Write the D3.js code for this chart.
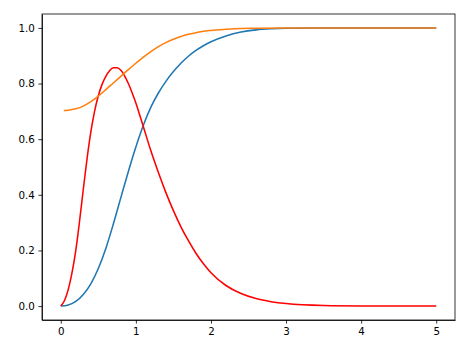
<!DOCTYPE html>
<html>
<head>
<meta charset="utf-8">
<script src="https://cdn.jsdelivr.net/npm/d3@7"></script>
<style>
  html, body { margin: 0; padding: 0; background: #fff; }
  .axis text { font-family: "DejaVu Sans", sans-serif; font-size: 10.3px; fill: #000; }
  .axis path, .axis line { stroke: #000; stroke-width: 0.8px; }
</style>
</head>
<body>
<div id="chart"></div>
<script>
// values
var blueX = [0, 0.1, 0.2, 0.3, 0.4, 0.5, 0.6, 0.7, 0.8, 0.9, 1.0, 1.1, 1.2, 1.3, 1.4, 1.5, 1.6, 1.7, 1.8, 1.9, 2.0, 2.2, 2.4, 2.6, 2.8, 3.0, 3.5, 4.0, 5.0];
var blueY = [0, 0.004, 0.017, 0.042, 0.08, 0.135, 0.207, 0.295, 0.39, 0.484, 0.572, 0.65, 0.715, 0.766, 0.808, 0.843, 0.873, 0.898, 0.919, 0.936, 0.95, 0.971, 0.985, 0.993, 0.997, 0.999, 1.0, 1.0, 1.0];

var redX = [0, 0.05, 0.1, 0.15, 0.2, 0.25, 0.3, 0.35, 0.4, 0.45, 0.5, 0.55, 0.6, 0.65, 0.7, 0.75, 0.8, 0.85, 0.9, 0.95, 1.0, 1.05, 1.1, 1.2, 1.3, 1.4, 1.5, 1.6, 1.7, 1.8, 1.9, 2.0, 2.2, 2.4, 2.6, 2.8, 3.0, 3.5, 4.0, 5.0];
var redY = [0, 0.02, 0.06, 0.12, 0.2, 0.305, 0.42, 0.53, 0.625, 0.7, 0.756, 0.797, 0.826, 0.846, 0.857, 0.857, 0.848, 0.828, 0.8, 0.767, 0.73, 0.688, 0.645, 0.558, 0.48, 0.408, 0.343, 0.285, 0.235, 0.19, 0.152, 0.12, 0.074, 0.045, 0.027, 0.016, 0.009, 0.002, 0.0005, 0];

var orangeX = [0.04, 0.1, 0.2, 0.3, 0.4, 0.5, 0.6, 0.7, 0.8, 0.9, 1.0, 1.1, 1.2, 1.3, 1.4, 1.5, 1.6, 1.7, 1.8, 1.9, 2.0, 2.2, 2.4, 2.6, 3.0, 4.0, 5.0];
var orangeY = [0.703, 0.704, 0.709, 0.719, 0.735, 0.755, 0.778, 0.802, 0.826, 0.85, 0.873, 0.895, 0.915, 0.933, 0.947, 0.959, 0.969, 0.977, 0.983, 0.988, 0.991, 0.995, 0.998, 0.999, 1.0, 1.0, 1.0];

var xTicks = [0, 1, 2, 3, 4, 5];
var yTicks = [0.0, 0.2, 0.4, 0.6, 0.8, 1.0];

var W = 474, H = 347;
var margin = { top: 14, right: 19, bottom: 27, left: 42 };
var width = W - margin.left - margin.right;
var height = H - margin.top - margin.bottom;

var svg = d3.select("#chart").append("svg")
    .attr("width", W)
    .attr("height", H);

var g = svg.append("g")
    .attr("transform", "translate(" + margin.left + "," + margin.top + ")");

var xScale = d3.scaleLinear().domain([-0.25, 5.25]).range([0, width]);
var yScale = d3.scaleLinear().domain([-0.05, 1.05]).range([height, 0]);

// x & y axis
g.append("g")
    .attr("class", "axis axis-x")
    .attr("transform", "translate(0," + height + ")")
    .call(d3.axisBottom(xScale).tickValues(xTicks).tickFormat(d3.format("d")).tickSize(3.6).tickPadding(3.6).tickSizeOuter(0));

g.append("g")
    .attr("class", "axis axis-y")
    .call(d3.axisLeft(yScale).tickValues(yTicks).tickFormat(d3.format(".1f")).tickSize(3.6).tickPadding(3.6).tickSizeOuter(0));

// frame
g.append("rect")
    .attr("x", 0).attr("y", 0)
    .attr("width", width).attr("height", height)
    .attr("fill", "none")
    .attr("stroke", "#000")
    .attr("stroke-width", 0.8);

var line = d3.line()
    .x(function (d) { return xScale(d[0]); })
    .y(function (d) { return yScale(d[1]); })
    .curve(d3.curveMonotoneX);

var series = [
    { xs: blueX, ys: blueY, color: "#1f77b4" },
    { xs: redX, ys: redY, color: "#ff0000" },
    { xs: orangeX, ys: orangeY, color: "#ff7f0e" }
];

series.forEach(function (s) {
    g.append("path")
        .datum(d3.zip(s.xs, s.ys))
        .attr("fill", "none")
        .attr("stroke", s.color)
        .attr("stroke-width", 1.55)
        .attr("stroke-linejoin", "round")
        .attr("d", line);
});
</script>
</body>
</html>
